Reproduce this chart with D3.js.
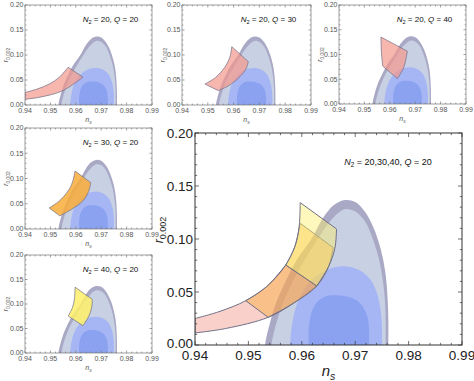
<!DOCTYPE html>
<html><head><meta charset="utf-8">
<script src="https://cdn.jsdelivr.net/npm/d3@7"></script>
<style>body{margin:0;background:#fff} svg{display:block} text{font-family:"Liberation Sans",Arial,sans-serif}</style>
</head><body><svg id="c" width="474" height="381"></svg>
<script>
// ---------- DATA ----------
const xTicks = [0.94, 0.95, 0.96, 0.97, 0.98, 0.99];
const yTicks = [0.00, 0.05, 0.10, 0.15, 0.20];
const xTickLabels = ["0.94", "0.95", "0.96", "0.97", "0.98", "0.99"];
const yTickLabels = ["0.00", "0.05", "0.10", "0.15", "0.20"];

// Planck contours, [n_s, r] (closed, bottom below r=0 is clipped)
const planckOuter = [[0.9528,-0.02],[0.9531,0],[0.9540,0.02],[0.9552,0.04],[0.9565,0.055],[0.9590,0.08],[0.9618,0.10],[0.9640,0.12],[0.9660,0.132],[0.9681,0.1368],[0.9700,0.135],[0.9718,0.126],[0.9735,0.11],[0.9748,0.09],[0.9756,0.07],[0.9760,0.05],[0.9762,0.025],[0.9762,0],[0.9762,-0.02]];
const planckInner = [[0.9541,-0.02],[0.9543,0],[0.9552,0.02],[0.9565,0.04],[0.9583,0.06],[0.9605,0.08],[0.9630,0.10],[0.9655,0.118],[0.9680,0.128],[0.9700,0.126],[0.9718,0.117],[0.9733,0.10],[0.9745,0.08],[0.9752,0.06],[0.9756,0.04],[0.9757,0.02],[0.9757,0],[0.9757,-0.02]];
const blue95 = [[0.9577,-0.02],[0.9578,0],[0.9582,0.02],[0.9592,0.04],[0.9608,0.055],[0.9630,0.066],[0.9660,0.073],[0.9685,0.074],[0.9710,0.070],[0.9728,0.062],[0.9740,0.050],[0.9747,0.035],[0.9750,0.018],[0.9750,0],[0.9750,-0.02]];
const blue68 = [[0.9612,-0.02],[0.9613,0],[0.9613,0.015],[0.9618,0.03],[0.9628,0.040],[0.9645,0.046],[0.9665,0.047],[0.9690,0.045],[0.9710,0.039],[0.9722,0.028],[0.9726,0.015],[0.9726,0],[0.9726,-0.02]];

// Model regions: upper (left/top) edge and lower (right/bottom) edge, [n_s, r]
const n20q20Upper = [[0.9400,0.0250],[0.9447,0.0318],[0.9495,0.0418],[0.9534,0.0550],[0.9570,0.0755]];
const n20q20Lower = [[0.9400,0.0114],[0.9459,0.0157],[0.9537,0.0261],[0.9584,0.0393],[0.9628,0.0557]];
const n30q20Upper = [[0.9495,0.0418],[0.9534,0.0550],[0.9570,0.0755],[0.9587,0.0928],[0.9597,0.1148]];
const n30q20Lower = [[0.9537,0.0261],[0.9584,0.0393],[0.9628,0.0557],[0.9650,0.0739],[0.9659,0.0918]];
const n40q20Upper = [[0.9570,0.0755],[0.9587,0.0928],[0.9595,0.1116],[0.9597,0.1343]];
const n40q20Lower = [[0.9628,0.0557],[0.9650,0.0739],[0.9662,0.0912],[0.9665,0.1095]];
const n20q30Upper = [[0.9489,0.0420],[0.9530,0.0550],[0.9565,0.0750],[0.9585,0.0950],[0.9593,0.1167]];
const n20q30Lower = [[0.9541,0.0287],[0.9585,0.0400],[0.9625,0.0570],[0.9648,0.0720],[0.9657,0.0867]];
const n20q40Upper = [[0.9572,0.0767],[0.9567,0.1050],[0.9565,0.1353]];
const n20q40Lower = [[0.9630,0.0513],[0.9655,0.0740],[0.9669,0.1067]];

// ---------- STYLE / LAYOUT ----------
const regionStyle = {
  pink:   {fill: "#f4978c"},
  orange: {fill: "#f9ad3a"},
  yellow: {fill: "#fff06a"}
};
const panels = [
  {x0:25, x1:152, y0:5, y1:105, big:false, label:["20","20"], regions:[["pink",n20q20Upper,n20q20Lower]], op:0.7},
  {x0:182, x1:311, y0:5, y1:105, big:false, label:["20","30"], regions:[["pink",n20q30Upper,n20q30Lower]], op:0.7},
  {x0:339, x1:466, y0:5, y1:104, big:false, label:["20","40"], regions:[["pink",n20q40Upper,n20q40Lower]], op:0.7},
  {x0:25, x1:152, y0:128, y1:229, big:false, label:["30","20"], regions:[["orange",n30q20Upper,n30q20Lower]], op:0.85},
  {x0:25, x1:152, y0:255, y1:353, big:false, label:["40","20"], regions:[["yellow",n40q20Upper,n40q20Lower]], op:0.85},
  {x0:195, x1:462, y0:133, y1:345, big:true, label:["20,30,40","20"], regions:[["pink",n20q20Upper,n20q20Lower],["orange",n30q20Upper,n30q20Lower],["yellow",n40q20Upper,n40q20Lower]], op:0.45}
];

const svg = d3.select("#c");
panels.forEach((p, i) => {
  const x = d3.scaleLinear().domain([0.94, 0.99]).range([p.x0, p.x1]);
  const y = d3.scaleLinear().domain([0, 0.2]).range([p.y1, p.y0]);
  const g = svg.append("g");
  const cid = "clip" + i;
  g.append("clipPath").attr("id", cid).append("rect")
    .attr("x", p.x0).attr("y", p.y0).attr("width", p.x1 - p.x0).attr("height", p.y1 - p.y0);
  const pg = g.append("g").attr("clip-path", `url(#${cid})`);
  const closed = d3.line().x(d => x(d[0])).y(d => y(d[1])).curve(d3.curveCatmullRomClosed);
  const open = d3.line().x(d => x(d[0])).y(d => y(d[1])).curve(d3.curveCatmullRom);
  pg.append("path").attr("d", closed(planckOuter)).attr("fill", "#a9a9c6");
  pg.append("path").attr("d", closed(planckInner)).attr("fill", "#c8d0e4");
  pg.append("path").attr("d", closed(blue95)).attr("fill", "#a6b6f4");
  pg.append("path").attr("d", closed(blue68)).attr("fill", "#8aa2f0");
  p.regions.forEach(([k, up, lo]) => {
    const d = open(up) + open(lo.slice().reverse()).replace(/^M/, "L") + "Z";
    pg.append("path").attr("d", d).attr("fill", regionStyle[k].fill).attr("fill-opacity", p.op)
      .attr("stroke", "#6f6f86").attr("stroke-width", p.big ? 1 : 0.7).attr("stroke-linejoin", "round");
  });
  // frame
  g.append("rect").attr("x", p.x0).attr("y", p.y0).attr("width", p.x1 - p.x0).attr("height", p.y1 - p.y0)
    .attr("fill", "none").attr("stroke", p.big ? "#333" : "#777").attr("stroke-width", p.big ? 1 : 0.7);
  // ticks
  const maj = p.big ? 4 : 2.5, mnr = p.big ? 2.2 : 1.4;
  const tcol = p.big ? "#333" : "#777";
  const xMinor = d3.range(0, 26).map(k => 0.94 + k * 0.002);
  const yMinor = d3.range(0, 21).map(k => k * 0.01);
  xMinor.forEach((v, k) => {
    const L = (k % 5 === 0) ? maj : mnr;
    [[p.y1, -1], [p.y0, 1]].forEach(([yy, s]) => g.append("line").attr("x1", x(v)).attr("x2", x(v)).attr("y1", yy).attr("y2", yy + s * L).attr("stroke", tcol).attr("stroke-width", 0.7));
  });
  yMinor.forEach((v, k) => {
    const L = (k % 5 === 0) ? maj : mnr;
    [[p.x0, 1], [p.x1, -1]].forEach(([xx, s]) => g.append("line").attr("y1", y(v)).attr("y2", y(v)).attr("x1", xx).attr("x2", xx + s * L).attr("stroke", tcol).attr("stroke-width", 0.7));
  });
  // tick labels
  const fs = p.big ? 13.5 : 7;
  const lc = p.big ? "#222" : "#555";
  xTicks.forEach((v, k) => g.append("text").attr("x", x(v)).attr("y", p.y1 + (p.big ? 15 : 8)).attr("text-anchor", "middle")
    .attr("font-size", fs).attr("fill", lc).text(xTickLabels[k]));
  yTicks.forEach((v, k) => g.append("text").attr("x", p.x0 - (p.big ? 2 : 1.5)).attr("y", y(v) + fs * 0.35 - (p.big && k === 0 ? 1.5 : 0)).attr("text-anchor", "end")
    .attr("font-size", fs).attr("fill", lc).text(yTickLabels[k]));
  // axis labels
  const afs = p.big ? 15 : 7;
  const nl = g.append("text").attr("x", (p.x0 + p.x1) / 2).attr("y", p.y1 + (p.big ? 31 : 17)).attr("text-anchor", "middle")
    .attr("font-size", afs).attr("fill", lc);
  nl.append("tspan").attr("font-style", "italic").text("n");
  nl.append("tspan").attr("font-style", "italic").attr("font-size", afs * 0.7).attr("dy", afs * 0.25).text("s");
  const rx = p.big ? 163 : p.x0 - 17, ry = p.big ? 230 : (p.y0 + p.y1) / 2;
  const rfs = p.big ? 12 : 6.5;
  const rl = g.append("text").attr("transform", `translate(${rx},${ry}) rotate(-90)`).attr("text-anchor", "middle")
    .attr("font-size", rfs).attr("fill", lc);
  rl.append("tspan").attr("font-style", "italic").text("r");
  rl.append("tspan").attr("font-size", rfs * 0.75).attr("dy", rfs * 0.25).text("0.002");
  // panel label
  const tfs = p.big ? 9 : 8;
  const tx = p.big ? 388 : (p.x0 + p.x1) / 2 + 22;
  const ty = p.big ? p.y0 + 32 : p.y0 + 17;
  const t = g.append("text").attr("x", tx).attr("y", ty).attr("text-anchor", "middle").attr("font-size", tfs).attr("fill", "#111");
  t.append("tspan").attr("font-style", "italic").text("N");
  t.append("tspan").attr("font-size", tfs * 0.7).attr("dy", tfs * 0.25).text("2");
  t.append("tspan").attr("dy", -tfs * 0.25).text(` = ${p.label[0]}, `);
  t.append("tspan").attr("font-style", "italic").text("Q");
  t.append("tspan").text(` = ${p.label[1]}`);
});
</script></body></html>
